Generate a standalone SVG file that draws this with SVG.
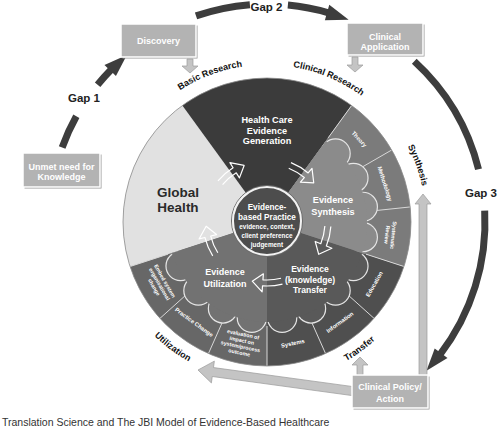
<svg xmlns="http://www.w3.org/2000/svg" width="500" height="434" viewBox="0 0 500 434">
<style>
text{font-family:"Liberation Sans",Arial,sans-serif}
.wt{fill:#fff;font-weight:bold;text-anchor:middle}
.seg{font-size:9.2px}
.rt{fill:#fff;font-weight:bold;font-size:5.8px;text-anchor:middle}
.rt2{fill:#fff;font-weight:bold;font-size:5.3px;text-anchor:middle}
.arcl{font-size:9px;font-weight:bold;fill:#111}
.gap{font-size:11.5px;font-weight:bold;fill:#222;text-anchor:middle}
.box{fill:#b3b3b3;stroke:#fff;stroke-width:1.5}
.shadow{fill:#9a9a9a}
.bt{fill:#fff;font-weight:bold;font-size:9px;text-anchor:middle}
.gapline{fill:none;stroke:#3d3d3d;stroke-width:7}
.gaphead{fill:#3d3d3d}
.larrow{fill:#c4c4c4;stroke:#9c9c9c;stroke-width:0.7}
.div{stroke:#d8d8d8;stroke-width:1;fill:none}
.ia{fill:none;stroke:#fff;stroke-width:1.2;stroke-linejoin:round}
</style>
<defs>
<path id="ia" d="M-14.03,-56.28 A58,58 0 0 1 4.05,-57.86 L3.63,-51.87 L14.76,-59.19 L4.88,-69.83 L4.47,-63.85 A64,64 0 0 0 -15.48,-62.10"/>
<path id="topArc" d="M129.30,142.5 A160,160 0 0 1 424.58,249.78"/>
<path id="synArc" d="M129.30,142.5 A158,158 0 0 1 422.6,249.4"/>
<path id="botArc" d="M116.65,276.72 A160,160 0 0 0 417.35,276.72"/>
<g id="bubset">
  <circle cx="335.59" cy="153.41" r="14" fill="#8b8b8b"/>
  <circle cx="353.43" cy="177.96" r="14" fill="#8b8b8b"/>
  <circle cx="362.81" cy="206.83" r="14" fill="#8b8b8b"/>
  <circle cx="362.81" cy="237.17" r="14" fill="#8b8b8b"/>
  <circle cx="353.43" cy="266.04" r="14" fill="#595959"/>
  <circle cx="335.59" cy="290.59" r="14" fill="#595959"/>
  <circle cx="311.04" cy="308.43" r="14" fill="#595959"/>
  <circle cx="282.17" cy="317.81" r="14" fill="#595959"/>
  <circle cx="251.83" cy="317.81" r="14" fill="#727272"/>
  <circle cx="222.96" cy="308.43" r="14" fill="#727272"/>
  <circle cx="198.41" cy="290.59" r="14" fill="#727272"/>
  <circle cx="180.57" cy="266.04" r="14" fill="#727272"/>
</g>
</defs>

<g id="wheel">
  <path id="global-health" d="M267,222 L130.04,266.50 A144,144 0 0 1 182.36,105.50 Z" fill="#e1e1e1"/>
  <path id="generation" d="M267,222 L182.36,105.50 A144,144 0 0 1 351.64,105.50 Z" fill="#3b3b3b"/>
  <path d="M267,222 L351.64,105.50 A144,144 0 0 1 403.96,266.50 Z" fill="#7b7b7b"/>
  <path d="M267,222 L403.96,266.50 A144,144 0 0 1 267,366 Z" fill="#4f4f4f"/>
  <path d="M267,222 L267,366 A144,144 0 0 1 130.04,266.50 Z" fill="#676767"/>
  <g class="div">
    <line x1="328.13" y1="137.86" x2="351.64" y2="105.50"/>
    <line x1="357.07" y1="170" x2="391.70" y2="150"/>
    <line x1="370.43" y1="211.13" x2="410.21" y2="206.95"/>
    <line x1="365.91" y1="254.14" x2="403.96" y2="266.50"/>
    <line x1="344.28" y1="291.59" x2="374.01" y2="318.35"/>
    <line x1="309.30" y1="317.00" x2="325.56" y2="353.54"/>
    <line x1="267" y1="326" x2="267" y2="366"/>
    <line x1="224.70" y1="317.00" x2="208.44" y2="353.54"/>
    <line x1="189.72" y1="291.59" x2="159.99" y2="318.35"/>
    <line x1="168.09" y1="254.14" x2="130.04" y2="266.50"/>
  </g>
  <use href="#bubset" stroke="#e6e6e6" stroke-width="2.4"/>
  <use href="#bubset"/>
  <path id="synthesis" d="M267,222 L325.78,141.10 A100,100 0 0 1 362.11,252.90 Z" fill="#8b8b8b"/>
  <path id="transfer" d="M267,222 L362.11,252.90 A100,100 0 0 1 267,322 Z" fill="#595959"/>
  <path id="utilization" d="M267,222 L267,322 A100,100 0 0 1 171.89,252.90 Z" fill="#727272"/>
  <circle cx="267" cy="222" r="144" fill="none" stroke="#8a8a8a" stroke-width="0.8"/>
  <g class="ia">
    <use href="#ia" transform="translate(267,222) rotate(324)"/>
    <use href="#ia" transform="translate(267,222) rotate(36)"/>
    <use href="#ia" transform="translate(267,222) rotate(108)"/>
    <use href="#ia" transform="translate(267,222) rotate(180)"/>
    <use href="#ia" transform="translate(267,222) rotate(252)"/>
  </g>
  <text class="rt" transform="translate(359.1,139) rotate(48)" y="2">Theory</text>
  <text class="rt" transform="translate(384.9,183.7) rotate(72)" y="2">Methodology</text>
  <text class="rt2" transform="translate(390.3,235) rotate(96)"><tspan x="0" y="-1.3">Systematic</tspan><tspan x="0" y="5">Review</tspan></text>
  <text class="rt" transform="translate(374.4,284) rotate(-60)" y="2">Education</text>
  <text class="rt" transform="translate(339.9,322.3) rotate(-36)" y="2">Information</text>
  <text class="rt" transform="translate(292.8,343.3) rotate(-12)" y="2">Systems</text>
  <text class="rt2" transform="translate(241.2,343.3) rotate(12)"><tspan x="0" y="-7.3">evaluation of</tspan><tspan x="0" y="-1.1">impact on</tspan><tspan x="0" y="5.1">system/process</tspan><tspan x="0" y="11.3">outcome</tspan></text>
  <text class="rt" transform="translate(194.1,322.3) rotate(36)" y="2">Practice Change</text>
  <text class="rt2" transform="translate(159.6,284) rotate(60)"><tspan x="0" y="-4.2">Embed system</tspan><tspan x="0" y="2">organisational</tspan><tspan x="0" y="8.2">change</tspan></text>
  <text class="wt seg"><tspan x="267" y="123">Health Care</tspan><tspan x="267" y="133.5">Evidence</tspan><tspan x="267" y="144">Generation</tspan></text>
  <text style="font-weight:bold;font-size:13.5px;fill:#2a2a2a;text-anchor:middle"><tspan x="178" y="197">Global</tspan><tspan x="178" y="212">Health</tspan></text>
  <text class="wt seg"><tspan x="333" y="203">Evidence</tspan><tspan x="333" y="215">Synthesis</tspan></text>
  <text class="wt" style="font-size:8.6px"><tspan x="310" y="272">Evidence</tspan><tspan x="310" y="282.5">(knowledge)</tspan><tspan x="310" y="293">Transfer</tspan></text>
  <text class="wt" style="font-size:9px"><tspan x="225" y="275">Evidence</tspan><tspan x="225" y="287">Utilization</tspan></text>
</g>

<g id="ebp">
  <circle cx="267" cy="221" r="35.5" fill="none" stroke="#6a6a6a" stroke-width="1"/>
  <circle cx="267" cy="221" r="34" fill="#4d4d4d" stroke="#f2f2f2" stroke-width="2"/>
  <text class="wt" style="font-size:8.2px"><tspan x="267" y="210">Evidence-</tspan><tspan x="267" y="220">based Practice</tspan></text>
  <text class="wt" style="font-size:6.4px"><tspan x="267" y="229">evidence, context,</tspan><tspan x="267" y="238">client preference</tspan><tspan x="267" y="247">judgement</tspan></text>
</g>

<g id="arc-labels">
  <text class="arcl"><textPath href="#topArc" startOffset="107" text-anchor="middle">Basic Research</textPath></text>
  <text class="arcl"><textPath href="#topArc" startOffset="229" text-anchor="middle">Clinical Research</textPath></text>
  <text class="arcl"><textPath href="#synArc" startOffset="362" text-anchor="middle">Synthesis</textPath></text>
  <text class="arcl"><textPath href="#botArc" startOffset="92" text-anchor="middle">Utilization</textPath></text>
  <text class="arcl"><textPath href="#botArc" startOffset="296" text-anchor="middle">Transfer</textPath></text>
</g>

<g id="connectors">
  <path class="gapline" d="M62.15,147.44 A218,218 0 0 1 76.34,116.31"/>
  <path class="gapline" d="M97.59,84.81 A218,218 0 0 1 111.5,69.2"/>
  <polygon class="gaphead" points="115.95,76.11 126.87,55.01 104.44,65.0"/>
  <path class="gapline" d="M196.02,15.88 A218,218 0 0 1 249.89,4.67"/>
  <path class="gapline" d="M287.89,5.0 A218,218 0 0 1 328.5,12.8"/>
  <polygon class="gaphead" points="324.88,20.13 348.66,19.87 329.29,4.75"/>
  <path class="gapline" d="M414.28,61.27 A218,218 0 0 1 478.53,169.26"/>
  <path class="gapline" d="M484.70,210.59 A218,218 0 0 1 440,354.6"/>
  <polygon class="gaphead" points="434.71,348.38 426.45,370.68 447.48,358.01"/>
  <text class="gap" x="84" y="102">Gap 1</text>
  <text class="gap" x="266.5" y="11">Gap 2</text>
  <text class="gap" x="481" y="197">Gap 3</text>
  <polygon class="larrow" points="187,59 193,59 193,66 198,66 190,73 182,66 187,66"/>
  <polygon class="larrow" points="352,57 358,57 358,65 363,65 355,72 347,65 352,65"/>
  <polygon class="larrow" points="360,357 368,365 363,365 363,375 357,375 357,365 352,365"/>
  <polygon class="larrow" points="423,194 431,204 427,204 427,375 419,375 419,204 415,204"/>
  <polygon class="larrow" transform="translate(198,370) rotate(7.77)" points="0,0 15,-11 15,-4.5 156,-4.5 156,4.5 15,4.5 15,11"/>
</g>

<g id="discovery">
  <rect class="shadow" x="122.5" y="25.5" width="75" height="33"/>
  <rect class="box" x="121" y="24" width="75" height="33"/>
  <text class="bt" x="158.5" y="44">Discovery</text>
</g>
<g id="unmet-need">
  <rect class="shadow" x="24.5" y="154.5" width="77" height="34"/>
  <rect class="box" x="23" y="153" width="77" height="34"/>
  <text class="bt"><tspan x="61.5" y="169.5">Unmet need for</tspan><tspan x="61.5" y="179.5">Knowledge</tspan></text>
</g>
<g id="clinical-application">
  <rect class="shadow" x="348.5" y="24.5" width="76" height="32"/>
  <rect class="box" x="347" y="23" width="76" height="32"/>
  <text class="bt"><tspan x="385" y="39.5">Clinical</tspan><tspan x="385" y="50">Application</tspan></text>
</g>
<g id="clinical-policy">
  <rect class="shadow" x="353.5" y="376.5" width="76" height="33"/>
  <rect class="box" x="352" y="375" width="76" height="33"/>
  <text class="bt"><tspan x="390" y="390">Clinical Policy/</tspan><tspan x="390" y="401.5">Action</tspan></text>
</g>

<text x="2" y="426" style="font-size:10.5px;fill:#333">Translation Science and The JBI Model of Evidence-Based Healthcare</text>
</svg>
